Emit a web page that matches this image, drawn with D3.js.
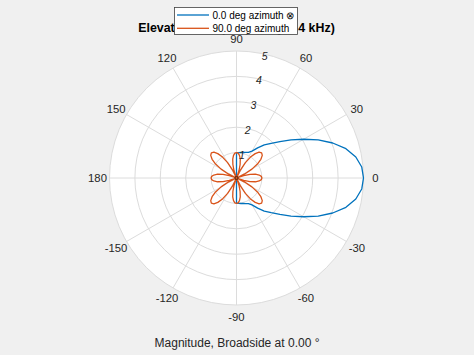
<!DOCTYPE html>
<html>
<head>
<meta charset="utf-8">
<script src="https://cdn.jsdelivr.net/npm/d3@7"></script>
<style>
  html, body { margin: 0; padding: 0; background: #f0f0f0; }
  svg { display: block; font-family: "Liberation Sans", Arial, Helvetica, sans-serif; }
</style>
</head>
<body>
<svg id="chart" width="474" height="355"></svg>
<script>
// ---- data ----
const titleText = "Elevation Cut (frequency = 4 kHz)";
const xLabelText = "Magnitude, Broadside at 0.00 °";
const seriesNames = ["0.0 deg azimuth \u2297", "90.0 deg azimuth"];
const thetaTicks = [0, 30, 60, 90, 120, 150, 180, -150, -120, -90, -60, -30];
const rTicks = [1, 2, 3, 4, 5];
const rMax = 5;

// elevation angles (deg) for each series
const blueAngles = d3.range(-180, 180, 5);
const blueValues = [
  0,0,0,0,0,0,0,0,0,0,0,0,0,0,0,0,0,0,
  1.00,1.00,1.02,1.04,1.07,1.11,1.22,1.45,1.70,1.93,2.23,2.62,3.05,3.55,4.03,4.46,4.77,4.95,
  5.00,
  4.95,4.77,4.46,4.03,3.55,3.05,2.62,2.23,1.93,1.70,1.45,1.22,1.11,1.07,1.04,1.02,1.00,1.00,
  0,0,0,0,0,0,0,0,0,0,0,0,0,0,0,0,0
];
const redAngles = d3.range(-180, 180, 3.75);
const redValues = [
  1.00,0.98,0.90,0.76,0.55,0.30,0.00,0.36,0.70,0.99,1.21,1.35,1.40,1.35,1.21,0.99,0.70,0.36,0.00,0.30,0.55,0.76,0.90,0.98,1.00,
  0.98,0.90,0.76,0.55,0.30,0.00,0.36,0.70,0.99,1.21,1.35,1.40,1.35,1.21,0.99,0.70,0.36,0.00,0.30,0.55,0.76,0.90,0.98,1.00,
  0.98,0.90,0.76,0.55,0.30,0.00,0.36,0.70,0.99,1.21,1.35,1.40,1.35,1.21,0.99,0.70,0.36,0.00,0.30,0.55,0.76,0.90,0.98,1.00,
  0.98,0.90,0.76,0.55,0.30,0.00,0.36,0.70,0.99,1.21,1.35,1.40,1.35,1.21,0.99,0.70,0.36,0.00,0.30,0.55,0.76,0.90,0.98
];
const colors = ["#0072BD", "#D95319"];

// ---- layout ----
const cx = 236.5, cy = 178, R = 127;
const svg = d3.select("#chart");
const r = d3.scaleLinear().domain([0, rMax]).range([0, R]);
const toRad = d => d * Math.PI / 180;
const px = (a, v) => cx + r(v) * Math.cos(toRad(a));
const py = (a, v) => cy - r(v) * Math.sin(toRad(a));

svg.append("rect").attr("width", 474).attr("height", 355).attr("fill", "#f0f0f0");

const g = svg.append("g");
g.append("circle").attr("cx", cx).attr("cy", cy).attr("r", R).attr("fill", "#ffffff");

// radial grid lines
g.selectAll("line.spoke").data(thetaTicks).join("line")
  .attr("x1", cx).attr("y1", cy)
  .attr("x2", d => px(d, rMax)).attr("y2", d => py(d, rMax))
  .attr("stroke", "#dcdcdc").attr("stroke-width", 1);
// rings
g.selectAll("circle.ring").data(rTicks).join("circle")
  .attr("cx", cx).attr("cy", cy).attr("r", d => r(d))
  .attr("fill", "none").attr("stroke", "#dcdcdc").attr("stroke-width", 1);

// theta labels
g.selectAll("text.tl").data(thetaTicks).join("text")
  .attr("x", d => cx + (R + 12) * Math.cos(toRad(d)))
  .attr("y", d => cy - (R + 12) * Math.sin(toRad(d)))
  .attr("text-anchor", "middle").attr("dominant-baseline", "central")
  .attr("font-size", 11.3).attr("fill", "#262626")
  .text(d => d);

// series
const line = d3.lineRadial()
  .angle(d => toRad(90 - d[0]))
  .radius(d => r(d[1]))
  .curve(d3.curveLinearClosed);

const plot = g.append("g").attr("transform", `translate(${cx},${cy})`);
plot.append("path").datum(blueAngles.map((a, i) => [a, blueValues[i]]))
  .attr("d", line).attr("fill", "none").attr("stroke", colors[0]).attr("stroke-width", 1.3)
  .attr("stroke-linejoin", "round");
plot.append("path").datum(redAngles.map((a, i) => [a, redValues[i]]))
  .attr("d", line).attr("fill", "none").attr("stroke", colors[1]).attr("stroke-width", 1.3)
  .attr("stroke-linejoin", "round");
plot.append("circle").attr("r", 1.6).attr("fill", "none").attr("stroke", "#4a2410").attr("stroke-width", 1);

// r labels
const rLabAngle = 77;
g.selectAll("text.rl").data(rTicks).join("text")
  .attr("x", d => cx + (r(d) - 1.5) * Math.cos(toRad(rLabAngle)))
  .attr("y", d => cy - (r(d) - 1.5) * Math.sin(toRad(rLabAngle)))
  .attr("text-anchor", "middle").attr("dominant-baseline", "central")
  .attr("font-size", 10.5).attr("font-style", "italic").attr("fill", "#262626")
  .text(d => d);

// title
svg.append("text").attr("x", cx).attr("y", 31.5).attr("text-anchor", "middle")
  .attr("font-size", 12.4).attr("font-weight", "bold").attr("fill", "#000")
  .text(titleText);

// bottom label
svg.append("text").attr("x", 237).attr("y", 347).attr("text-anchor", "middle")
  .attr("font-size", 12).attr("fill", "#262626")
  .text(xLabelText);

// legend
const lg = svg.append("g");
lg.append("rect").attr("x", 174.5).attr("y", 7.5).attr("width", 123).attr("height", 27)
  .attr("fill", "#ffffff").attr("stroke", "#404040").attr("stroke-width", 0.8);
seriesNames.forEach((name, i) => {
  const y = 15 + i * 13.3;
  lg.append("line").attr("x1", 177).attr("x2", 209).attr("y1", y).attr("y2", y)
    .attr("stroke", colors[i]).attr("stroke-width", 1.3);
  lg.append("text").attr("x", 212.5).attr("y", y).attr("dominant-baseline", "central")
    .attr("font-size", 10).attr("fill", "#000").text(name);
});
</script>
</body>
</html>
